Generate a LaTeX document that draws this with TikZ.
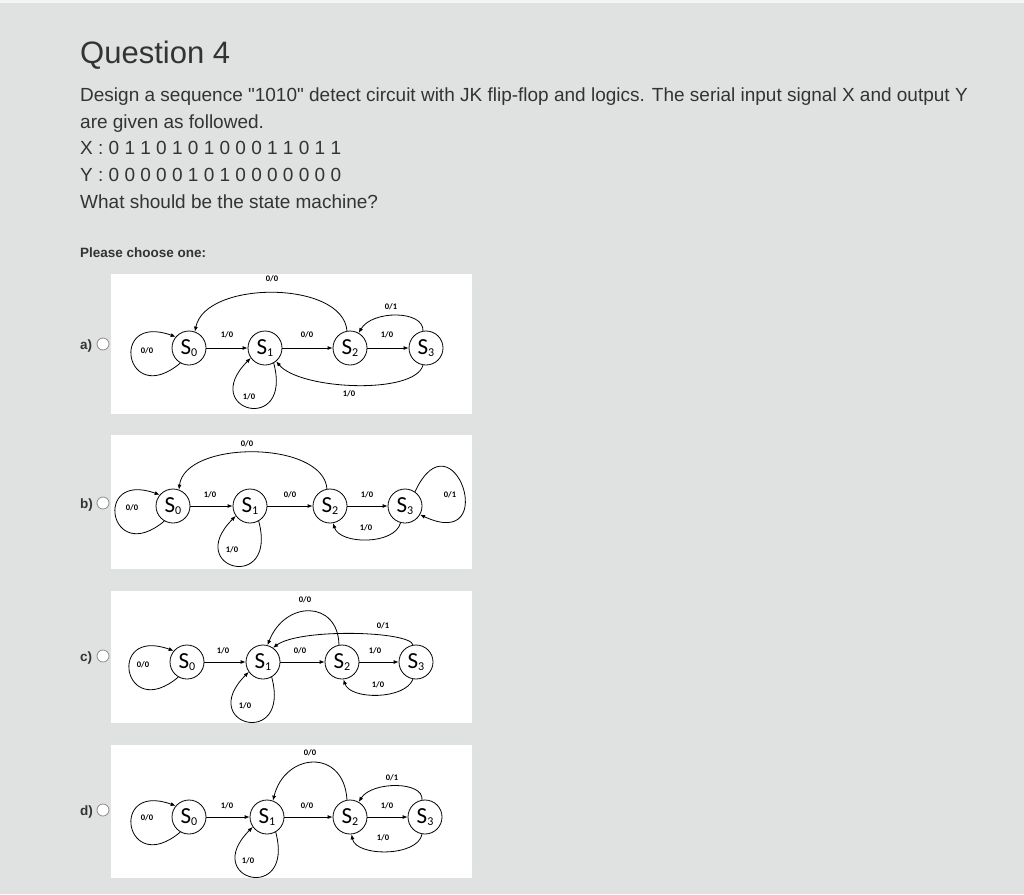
\documentclass[tikz,border=0pt]{standalone}
\usepackage{fontspec}
\setmainfont{Liberation Sans}[Ligatures=TeXOff]
\newfontfamily\calfont{Carlito}
\usetikzlibrary{arrows.meta}
\definecolor{bg}{RGB}{224,226,225}
\definecolor{txt}{RGB}{51,51,51}
\definecolor{radio}{RGB}{140,140,140}
\newcommand\stname[1]{S\raisebox{-2.5pt}{\fontsize{12}{12}\selectfont #1}}
\tikzset{
  state/.style={circle, draw, line width=0.8pt, minimum size=34pt, inner sep=0pt, fill=white,
    font=\calfont\fontsize{23}{23}\selectfont},
  lbl/.style={font=\calfont\bfseries\fontsize{8.5}{8.5}\selectfont, inner sep=0pt},
  arr/.style={line width=0.8pt, -{Latex[length=5pt,width=4pt]}},
  txtline/.style={anchor=base west, inner sep=0pt, text=txt, font=\fontsize{19}{19}\selectfont},
  opt/.style={anchor=base west, inner sep=0pt, text=txt, font=\bfseries\fontsize{13.5}{13.5}\selectfont},
  radiobtn/.style={circle, draw=radio, fill=white, line width=0.8pt, minimum size=12pt, inner sep=0pt},
  panel/.style={fill=white, draw=none},
  loopL/.style={arr, out=-140, in=160, distance=72},
  loopD/.style={arr, out=-75, in=-135, distance=75}
}
\begin{document}
\begin{tikzpicture}[x=1pt,y=1pt]
\useasboundingbox (0,-894) rectangle (1024,0);
\fill[bg] (0,-894) rectangle (1024,0);
\fill[white!60!bg] (0,-3) rectangle (1024,0);

% header text
\node[anchor=base west, inner sep=0pt, text=txt, font=\fontsize{31}{31}\selectfont] (title) at (80,-63) {Question 4};
\node[txtline] (l1) at (80,-101) {Design a sequence "1010" detect circuit with JK flip-flop and logics. The serial input signal X and output Y};
\node[txtline] (l2) at (80,-128) {are given as followed.};
\node[txtline] (l3) at (80,-154) {X : 0 1 1 0 1 0 1 0 0 0 1 1 0 1 1};
\node[txtline] (l4) at (80,-181) {Y : 0 0 0 0 0 1 0 1 0 0 0 0 0 0 0};
\node[txtline] (l5) at (80,-208) {What should be the state machine?};
\node[opt] (choose) at (80,-257) {Please choose one:};

% options
\node[opt] (oa) at (80,-349) {a)};
\node[radiobtn] (ra) at (103,-344) {};
\node[opt] (ob) at (80,-508) {b)};
\node[radiobtn] (rb) at (103,-503) {};
\node[opt] (oc) at (80,-661) {c)};
\node[radiobtn] (rc) at (103,-656) {};
\node[opt] (od) at (80,-815) {d)};
\node[radiobtn] (rd) at (103,-810) {};

% panels
\fill[panel] (111,-274) rectangle (472,-414);
\fill[panel] (111,-435) rectangle (472,-569);
\fill[panel] (111,-591) rectangle (472,-723);
\fill[panel] (111,-745) rectangle (472,-878);

% ---------- a) ----------
\node[state] (a0) at (189,-348) {\stname{0}};
\node[state] (a1) at (265,-348) {\stname{1}};
\node[state] (a2) at (350,-348) {\stname{2}};
\node[state] (a3) at (426,-348) {\stname{3}};
\draw[arr] (a0) -- (a1);
\draw[arr] (a1) -- (a2);
\draw[arr] (a2) -- (a3);
\draw[loopL] (a0.-120) to (a0.140);
\draw[loopD] (a1.-60) to (a1.-145);
\draw[arr] (a2.100) .. controls (343,-280) and (205,-280) .. (a0.70);
\draw[arr] (a3.100) .. controls (424,-310) and (372,-310) .. (a2.60);
\draw[arr] (a3.-100) .. controls (415,-395) and (300,-390) .. (a1.-50);
\node[lbl] (la1) at (147,-351) {0/0};
\node[lbl] (la2) at (227,-335) {1/0};
\node[lbl] (la3) at (249,-397) {1/0};
\node[lbl] (la4) at (307,-335) {0/0};
\node[lbl] (la5) at (387,-335) {1/0};
\node[lbl] (la6) at (272,-279) {0/0};
\node[lbl] (la7) at (391,-307) {0/1};
\node[lbl] (la8) at (349,-394) {1/0};

% ---------- b) ----------
\node[state] (b0) at (173,-506) {\stname{0}};
\node[state] (b1) at (250,-506) {\stname{1}};
\node[state] (b2) at (330,-506) {\stname{2}};
\node[state] (b3) at (405,-506) {\stname{3}};
\draw[arr] (b0) -- (b1);
\draw[arr] (b1) -- (b2);
\draw[arr] (b2) -- (b3);
\draw[loopL] (b0.-120) to (b0.140);
\draw[loopD] (b1.-60) to (b1.-145);
\draw[arr] (b2.100) .. controls (323,-440) and (185,-440) .. (b0.70);
\draw[arr] (b3.55) to[out=65,in=-25,distance=90] (b3.-30);
\draw[arr] (b3.-105) .. controls (395,-545) and (340,-545) .. (b2.-80);
\node[lbl] (lb1) at (132,-508) {0/0};
\node[lbl] (lb2) at (210,-495) {1/0};
\node[lbl] (lb3) at (232,-550) {1/0};
\node[lbl] (lb4) at (290,-495) {0/0};
\node[lbl] (lb5) at (367,-495) {1/0};
\node[lbl] (lb6) at (247,-444) {0/0};
\node[lbl] (lb7) at (450,-495) {0/1};
\node[lbl] (lb8) at (366,-528) {1/0};

% ---------- c) ----------
\node[state] (c0) at (187,-662) {\stname{0}};
\node[state] (c1) at (263,-662) {\stname{1}};
\node[state] (c2) at (342,-662) {\stname{2}};
\node[state] (c3) at (416,-662) {\stname{3}};
\draw[arr] (c0) -- (c1);
\draw[arr] (c1) -- (c2);
\draw[arr] (c2) -- (c3);
\draw[loopL] (c0.-120) to (c0.140);
\draw[loopD] (c1.-60) to (c1.-145);
\draw[arr] (c2.100) .. controls (338,-600) and (285,-600) .. (c1.75);
\draw[arr] (c3.100) .. controls (410,-631) and (300,-628) .. (c1.55);
\draw[arr] (c3.-100) .. controls (405,-700) and (350,-700) .. (c2.-85);
\node[lbl] (lc1) at (143,-665) {0/0};
\node[lbl] (lc2) at (223,-651) {1/0};
\node[lbl] (lc3) at (245,-706) {1/0};
\node[lbl] (lc4) at (300,-651) {0/0};
\node[lbl] (lc5) at (375,-651) {1/0};
\node[lbl] (lc6) at (305,-600) {0/0};
\node[lbl] (lc7) at (383,-626) {0/1};
\node[lbl] (lc8) at (378,-685) {1/0};

% ---------- d) ----------
\node[state] (d0) at (189,-817) {\stname{0}};
\node[state] (d1) at (267,-817) {\stname{1}};
\node[state] (d2) at (350,-817) {\stname{2}};
\node[state] (d3) at (425,-817) {\stname{3}};
\draw[arr] (d0) -- (d1);
\draw[arr] (d1) -- (d2);
\draw[arr] (d2) -- (d3);
\draw[loopL] (d0.-120) to (d0.140);
\draw[loopD] (d1.-60) to (d1.-145);
\draw[arr] (d2.100) .. controls (344,-748) and (285,-752) .. (d1.70);
\draw[arr] (d3.100) .. controls (424,-781) and (372,-781) .. (d2.60);
\draw[arr] (d3.-100) .. controls (418,-857) and (356,-857) .. (d2.-85);
\node[lbl] (ld1) at (147,-818) {0/0};
\node[lbl] (ld2) at (227,-806) {1/0};
\node[lbl] (ld3) at (248,-861) {1/0};
\node[lbl] (ld4) at (307,-806) {0/0};
\node[lbl] (ld5) at (387,-806) {1/0};
\node[lbl] (ld6) at (310,-753) {0/0};
\node[lbl] (ld7) at (392,-778) {0/1};
\node[lbl] (ld8) at (383,-838) {1/0};
\end{tikzpicture}
\end{document}
